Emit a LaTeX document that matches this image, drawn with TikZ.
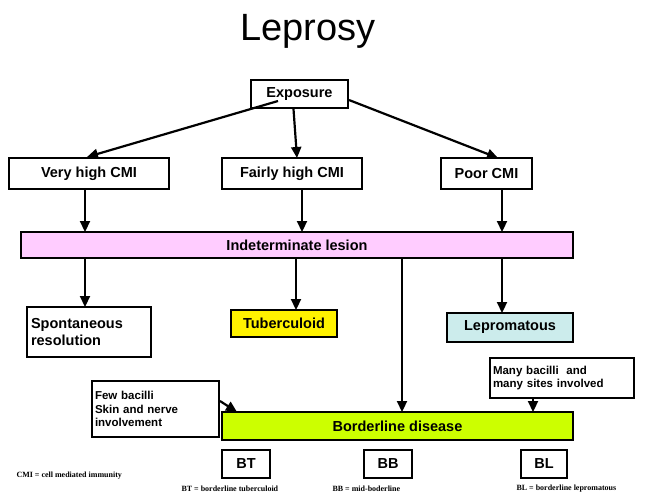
\documentclass[tikz,border=0pt]{standalone}
\usepackage{fontspec}
\setmainfont{Liberation Sans}
\newfontfamily\serifA{Liberation Serif}
\usetikzlibrary{arrows.meta}
\definecolor{pinkb}{RGB}{255,204,255}
\definecolor{lime}{RGB}{204,255,0}
\definecolor{lblue}{RGB}{204,236,236}
\begin{document}
\begin{tikzpicture}[x=1pt,y=-1pt,
 box/.style={draw,line width=2pt,inner sep=0pt,font=\bfseries\fontsize{14.5}{17}\selectfont},
 arr/.style={line width=2.2pt,-{Triangle[length=11pt,width=10pt]}},
 note/.style={font=\serifA\bfseries\fontsize{8}{9}\selectfont,anchor=west}]
\useasboundingbox (0,0) rectangle (658,496);
\node[font=\fontsize{38}{42}\selectfont] (title) at (308,31) {Leprosy};
\node[box,minimum width=97,minimum height=28] (exp) at (299.5,94) {Exposure};
\node[box,minimum width=160,minimum height=31] (vh) at (89,173.5) {Very high CMI};
\node[box,minimum width=140,minimum height=31] (fh) at (292,173.5) {Fairly high CMI};
\node[box,minimum width=91,minimum height=31] (pc) at (486.5,173.5) {Poor CMI};
\node[box,fill=pinkb,minimum width=552,minimum height=26] (ind) at (297,245) {Indeterminate lesion};
\node[box,minimum width=124,minimum height=50,align=left,text width=116] (sp) at (89,332) {Spontaneous\\resolution};
\node[box,fill=yellow,minimum width=106,minimum height=27] (tub) at (284,323.5) {Tuberculoid};
\node[box,fill=lblue,minimum width=126,minimum height=29] (lep) at (510,327.5) {Lepromatous};
\node[box,minimum width=144,minimum height=40,align=left,text width=138,font=\bfseries\fontsize{11.5}{13.5}\selectfont] (many) at (562,378) {Many bacilli\ \ and\\many sites involved};
\node[box,minimum width=127,minimum height=56,align=left,text width=121,font=\bfseries\fontsize{11.5}{13.5}\selectfont] (few) at (155.5,409) {Few bacilli\\Skin and nerve\\involvement};
\node[box,fill=lime,minimum width=351,minimum height=28] (bd) at (397.5,426) {Borderline disease};
\node[box,minimum width=48,minimum height=28] (bt) at (246,464) {BT};
\node[box,minimum width=48,minimum height=28] (bb) at (388,464) {BB};
\node[box,minimum width=46,minimum height=28] (bl) at (544,464) {BL};
\node[note] (n1) at (13,476) {CMI = cell mediated immunity};
\node[note] (n2) at (178,489) {BT = borderline tuberculoid};
\node[note] (n3) at (329,489) {BB = mid-boderline};
\node[note] (n4) at (513,489) {BL = borderline lepromatous};
\draw[arr] (exp.south west) ++(28,-8) coordinate (e1) -- (vh.north -| 87,0);
\draw[arr] (exp.south) ++(-6,0) -- (297,158);
\draw[arr] (exp.east) ++(0,6) -- (498,158);
\draw[arr] (85,189) -- (85,232);
\draw[arr] (302,189) -- (302,232);
\draw[arr] (502,189) -- (502,232);
\draw[arr] (85,258) -- (85,307);
\draw[arr] (296,258) -- (296,310);
\draw[arr] (402,258) -- (402,412);
\draw[arr] (502,258) -- (502,313);
\draw[arr] (few.east) ++(0,-8) -- (237,412);
\draw[arr] (533,398) -- (533,412);
\end{tikzpicture}
\end{document}
